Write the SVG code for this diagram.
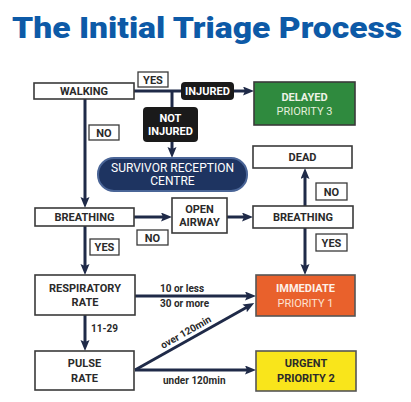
<svg xmlns="http://www.w3.org/2000/svg" width="411" height="402" viewBox="0 0 411 402">
<defs>
<style>
.title{font-family:Roboto,"Liberation Sans",sans-serif;font-weight:900;font-size:29px;fill:#0d5aa7}
.box{fill:#fff;stroke:#3a3a3a;stroke-width:1.6}
.tag{fill:#fff;stroke:#3a3a3a;stroke-width:1.3}
.t{font-family:Roboto,"Liberation Sans",sans-serif;font-weight:700;font-size:11px;fill:#2a2a2a;text-anchor:middle}
.tn{font-family:Roboto,"Liberation Sans",sans-serif;font-weight:400;font-size:11px;text-anchor:middle}
.w{fill:#fff}
.lbl{font-family:Roboto,"Liberation Sans",sans-serif;font-weight:700;font-size:10px;fill:#2a2a2a}
.c{stroke:#1f2a48;stroke-width:3;fill:none}
.a{marker-end:url(#ah)}
</style>
<marker id="ah" markerUnits="userSpaceOnUse" markerWidth="12" markerHeight="10" refX="5" refY="4.5" orient="auto">
<path d="M0,0 L11,4.5 L0,9 L2,4.5 z" fill="#1f2a48"/>
</marker>
</defs>
<rect width="411" height="402" fill="#fff"/>
<text class="title" x="12" y="38" textLength="390" lengthAdjust="spacingAndGlyphs">The Initial Triage Process</text>

<g id="connectors">
<line class="c" x1="134" y1="91" x2="183" y2="91"/>
<line class="c" x1="172" y1="91" x2="172" y2="108"/>
<line class="c a" x1="234" y1="91" x2="248" y2="91"/>
<line class="c a" x1="172" y1="142" x2="172" y2="152"/>
<line class="c a" x1="85" y1="99" x2="85" y2="202"/>
<line class="c a" x1="134" y1="217" x2="166" y2="217"/>
<line class="c a" x1="227" y1="217" x2="247" y2="217"/>
<line class="c a" x1="305" y1="206" x2="305" y2="174"/>
<line class="c a" x1="305" y1="228" x2="305" y2="269"/>
<line class="c a" x1="85" y1="226" x2="85" y2="269"/>
<line class="c a" x1="135" y1="296" x2="250" y2="296"/>
<line class="c a" x1="85" y1="315" x2="85" y2="345"/>
<line class="c a" x1="135" y1="370" x2="250" y2="370"/>
<line class="c a" x1="135" y1="370" x2="249" y2="306"/>
</g>

<g id="walking"><rect class="box" x="34" y="83" width="100" height="16"/><text class="t" x="84" y="95">WALKING</text></g>
<g id="yes1"><rect class="tag" x="138" y="72" width="30" height="15"/><text class="t" x="153" y="83.5">YES</text></g>
<g id="no1"><rect class="tag" x="89" y="125" width="30" height="15"/><text class="t" x="104" y="136.5">NO</text></g>
<g id="injured"><rect x="181" y="82" width="53" height="18" rx="4" fill="#1a1a1a"/><text class="t w" x="207.5" y="95">INJURED</text></g>
<g id="not-injured"><rect x="143" y="107" width="55" height="35" rx="4" fill="#1a1a1a"/><text class="t w" x="170.5" y="122">NOT</text><text class="t w" x="170.5" y="135">INJURED</text></g>
<g id="delayed"><rect x="254" y="82" width="101" height="43" fill="#2f8a3e" stroke="#3a3a3a" stroke-width="1.6"/><text class="t" x="304.5" y="101" style="fill:#eef3e6">DELAYED</text><text class="tn" x="304.5" y="115" style="fill:#e3eedb">PRIORITY 3</text></g>
<g id="survivor"><rect x="98" y="158" width="149" height="33" rx="16" fill="#1e3461" stroke="#4a6597" stroke-width="2"/><text class="tn w" x="172.5" y="172" style="font-size:12px">SURVIVOR RECEPTION</text><text class="tn w" x="172.5" y="185" style="font-size:12px">CENTRE</text></g>
<g id="breathing1"><rect class="box" x="35" y="208" width="99" height="18"/><text class="t" x="84.5" y="221">BREATHING</text></g>
<g id="open-airway"><rect class="box" x="172" y="198" width="55" height="35"/><text class="t" x="199.5" y="213">OPEN</text><text class="t" x="199.5" y="226">AIRWAY</text></g>
<g id="no2"><rect class="tag" x="137" y="230" width="31" height="15"/><text class="t" x="152.5" y="241.5">NO</text></g>
<g id="yes2"><rect class="tag" x="90" y="239" width="29" height="16"/><text class="t" x="104.5" y="251">YES</text></g>
<g id="dead"><rect class="box" x="253" y="146" width="99" height="22"/><text class="t" x="302.5" y="161">DEAD</text></g>
<g id="breathing2"><rect class="box" x="253" y="206" width="100" height="22"/><text class="t" x="303" y="221">BREATHING</text></g>
<g id="no3"><rect class="tag" x="316" y="183" width="31" height="17"/><text class="t" x="331.5" y="195.5">NO</text></g>
<g id="yes3"><rect class="tag" x="316" y="234" width="31" height="17"/><text class="t" x="331.5" y="246.5">YES</text></g>
<g id="respiratory"><rect class="box" x="35" y="275" width="100" height="40"/><text class="t" x="85" y="292">RESPIRATORY</text><text class="t" x="85" y="306">RATE</text></g>
<g id="pulse"><rect class="box" x="35" y="351" width="99" height="39"/><text class="t" x="84.5" y="367">PULSE</text><text class="t" x="84.5" y="382">RATE</text></g>
<g id="immediate"><rect x="256" y="275" width="99" height="41" fill="#e9612c" stroke="#555" stroke-width="1.6"/><text class="t" x="305.5" y="292" style="fill:#fdf0e8">IMMEDIATE</text><text class="tn" x="305.5" y="307" style="fill:#fde2d2">PRIORITY 1</text></g>
<g id="urgent"><rect x="256" y="351" width="100" height="40" fill="#f9e51b" stroke="#555" stroke-width="1.6"/><text class="t" x="306" y="367">URGENT</text><text class="t" x="306" y="382">PRIORITY 2</text></g>

<g id="labels">
<text class="lbl" x="160" y="292">10 or less</text>
<text class="lbl" x="160" y="307">30 or more</text>
<text class="lbl" x="91" y="332">11-29</text>
<text class="lbl" x="163" y="384">under 120min</text>
<text class="lbl" x="163" y="349" transform="rotate(-29.5 163 349)">over 120min</text>
</g>
</svg>
